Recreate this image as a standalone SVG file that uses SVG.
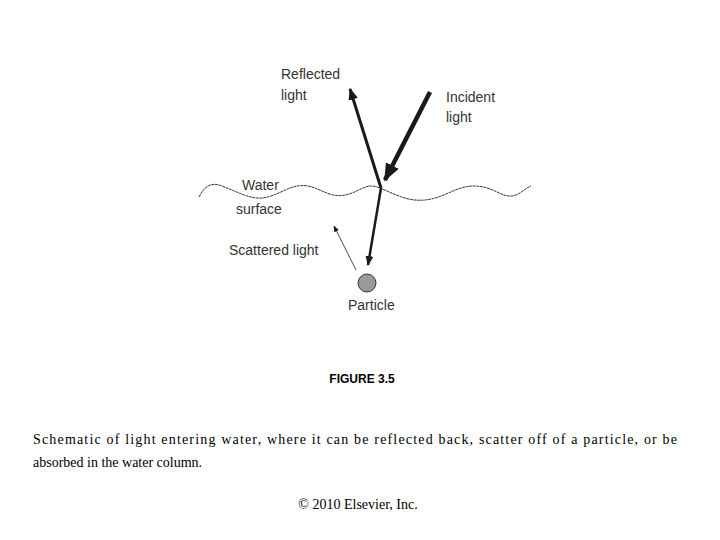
<svg xmlns="http://www.w3.org/2000/svg" width="720" height="540" viewBox="0 0 720 540">
<style>
.l{font-family:"Liberation Sans",Arial,sans-serif;font-size:14px;fill:#333}
.c{font-family:"Liberation Serif","Times New Roman",serif;font-size:14px;fill:#000}
.ray{stroke:#1a1a1a;fill:none}
</style>
<defs>
<marker id="ah" viewBox="0 0 10 10" refX="9" refY="5" markerWidth="4" markerHeight="4" orient="auto" markerUnits="strokeWidth"><path d="M0,1 L10,5 L0,9 Z" fill="#1a1a1a"/></marker>
<marker id="ahs" viewBox="0 0 10 10" refX="9" refY="5" markerWidth="8" markerHeight="8" orient="auto" markerUnits="strokeWidth"><path d="M0,1 L10,5 L0,9 Z" fill="#1a1a1a"/></marker>
</defs>
<rect width="720" height="540" fill="#fff"/>
<g id="water">
<path d="M199,197 C205,185 212,182 222,186 C240,193 250,199 262,198 C280,196 290,183 308,186 C322,189 330,198 345,195 C360,192 365,183 377,187 C392,192 405,202 425,200 C445,198 455,186 475,186 C495,187 500,197 512,196 C520,195 525,188 531,186" fill="none" stroke="#222" stroke-width="0.9" stroke-dasharray="3,0.6"/>
</g>
<g id="connectors">
<line class="ray" x1="430" y1="92" x2="385" y2="180" stroke-width="4.5" marker-end="url(#ah)"/>
<line class="ray" x1="381" y1="188" x2="350" y2="89" stroke-width="3" marker-end="url(#ah)"/>
<line class="ray" x1="381" y1="188" x2="368" y2="265" stroke-width="2.5" marker-end="url(#ah)"/>
<line class="ray" x1="356" y1="270" x2="334" y2="226" stroke-width="0.8" marker-end="url(#ahs)"/>
</g>
<g id="particle">
<circle cx="367" cy="283" r="9" fill="#999" stroke="#333" stroke-width="1"/>
<text class="l" x="348" y="310">Particle</text>
</g>
<g id="labels">
<text class="l" x="281" y="79">Reflected</text>
<text class="l" x="281" y="100">light</text>
<text class="l" x="446" y="102">Incident</text>
<text class="l" x="446" y="122">light</text>
<text class="l" x="242" y="190">Water</text>
<text class="l" x="236" y="214">surface</text>
<text class="l" x="229" y="255">Scattered light</text>
</g>
<text x="362" y="383" text-anchor="middle" font-family="Liberation Sans,Arial,sans-serif" font-size="12" font-weight="bold">FIGURE 3.5</text>
<text class="c" x="33" y="444" textLength="644">Schematic of light entering water, where it can be reflected back, scatter off of a particle, or be</text>
<text class="c" x="33" y="467">absorbed in the water column.</text>
<text class="c" x="358" y="509" text-anchor="middle">© 2010 Elsevier, Inc.</text>
</svg>
